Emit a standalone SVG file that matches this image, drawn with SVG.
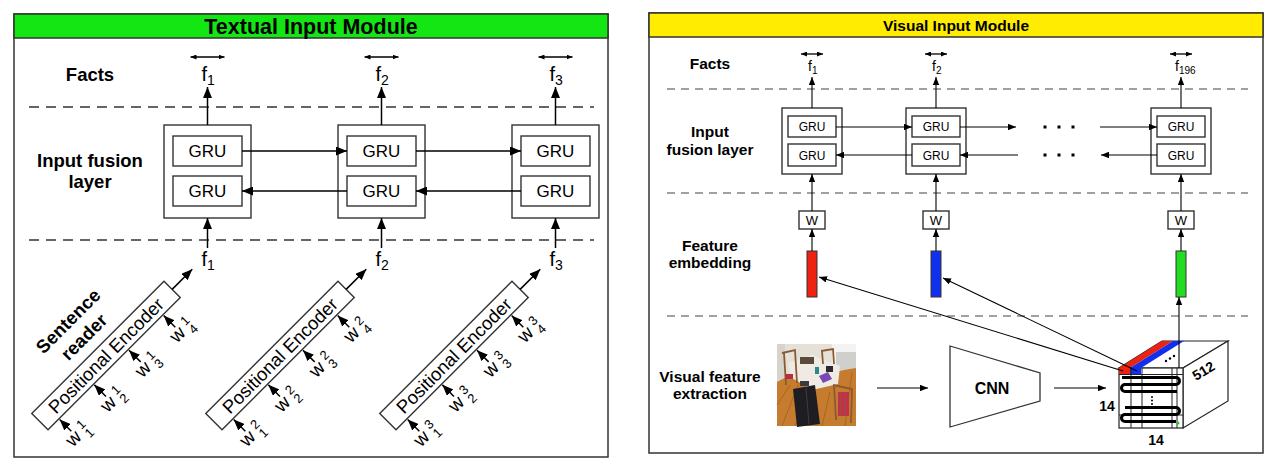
<svg xmlns="http://www.w3.org/2000/svg" width="1270" height="465" viewBox="0 0 1270 465">
<defs>
<style>
text{font-family:"Liberation Sans",Arial,sans-serif;fill:#000}
.panel{fill:#fff;stroke:#333;stroke-width:1.5}
.b{font-weight:bold}
.lbl{font-weight:bold;font-size:18.5px;text-anchor:middle}
.rlbl{font-weight:bold;font-size:15.5px;text-anchor:middle}
.box{fill:#fff;stroke:#333;stroke-width:1.4}
.gru{font-size:17px;text-anchor:middle}
.rgru{font-size:12px;text-anchor:middle}
.dash{stroke:#333;stroke-width:1.3;stroke-dasharray:10 7;fill:none}
.rdash{stroke:#444;stroke-width:1.2;stroke-dasharray:8 6;fill:none}
.ln{stroke:#000;stroke-width:1.5;fill:none;marker-end:url(#ah)}
.rln{stroke:#000;stroke-width:1.1;fill:none;marker-end:url(#ahs)}
.dbl{stroke:#000;stroke-width:1.3;fill:none;marker-start:url(#ahd);marker-end:url(#ahd)}
.fl{font-size:20px}
.rf{font-size:14px}
.w{font-size:19px}
.ws{font-size:13px}
.pe{font-size:18.5px;text-anchor:middle}
</style>
<marker id="ah" markerUnits="userSpaceOnUse" markerWidth="11" markerHeight="9" refX="11" refY="4.5" orient="auto"><path d="M0,0 L11,4.5 L0,9 z" fill="#000"/></marker>
<marker id="ahs" markerUnits="userSpaceOnUse" markerWidth="8" markerHeight="6.5" refX="8" refY="3.25" orient="auto"><path d="M0,0 L8,3.25 L0,6.5 z" fill="#000"/></marker>
<marker id="ahd" markerUnits="userSpaceOnUse" markerWidth="6" markerHeight="5" refX="6" refY="2.5" orient="auto-start-reverse"><path d="M0,0 L6,2.5 L0,5 z" fill="#000"/></marker>
</defs>

<!-- ================= Textual Input Module ================= -->
<g id="textual-module">
<rect class="panel" x="14" y="14" width="594" height="443"/>
<rect x="14" y="14" width="594" height="24" fill="#14e614" stroke="#333" stroke-width="1.5"/>
<text x="311" y="34" class="b" font-size="21.5" text-anchor="middle">Textual Input Module</text>
<text class="lbl" x="90" y="81">Facts</text>
<text class="lbl" x="90" y="167">Input fusion</text>
<text class="lbl" x="90" y="188">layer</text>
<g transform="translate(68,321) rotate(-45)">
<text class="lbl" x="0" y="6.5">Sentence</text>
<text class="lbl" x="0" y="29">reader</text>
</g>
<line class="dash" x1="29" y1="107" x2="594" y2="107"/>
<line class="dash" x1="29" y1="240" x2="594" y2="240"/>
</g>

<g id="t-fusion-1">
<rect class="box" x="164" y="125" width="87" height="93"/>
<rect class="box" x="173" y="136" width="69" height="30"/><text class="gru" x="207.5" y="157">GRU</text>
<rect class="box" x="173" y="176" width="69" height="30"/><text class="gru" x="207.5" y="197">GRU</text>
</g>
<g id="t-fusion-2">
<rect class="box" x="338" y="125" width="87" height="93"/>
<rect class="box" x="347" y="136" width="69" height="30"/><text class="gru" x="381.5" y="157">GRU</text>
<rect class="box" x="347" y="176" width="69" height="30"/><text class="gru" x="381.5" y="197">GRU</text>
</g>
<g id="t-fusion-3">
<rect class="box" x="512" y="125" width="87" height="93"/>
<rect class="box" x="521" y="136" width="69" height="30"/><text class="gru" x="555.5" y="157">GRU</text>
<rect class="box" x="521" y="176" width="69" height="30"/><text class="gru" x="555.5" y="197">GRU</text>
</g>

<g id="t-facts">
<text class="fl" x="201.5" y="81">f<tspan font-size="14" dy="4">1</tspan></text>
<text class="fl" x="375.5" y="81">f<tspan font-size="14" dy="4">2</tspan></text>
<text class="fl" x="549.5" y="81">f<tspan font-size="14" dy="4">3</tspan></text>
<text class="fl" x="201.5" y="266">f<tspan font-size="14" dy="4">1</tspan></text>
<text class="fl" x="375.5" y="266">f<tspan font-size="14" dy="4">2</tspan></text>
<text class="fl" x="549.5" y="266">f<tspan font-size="14" dy="4">3</tspan></text>
</g>

<g id="t-encoder-1" transform="translate(106,355.5) rotate(-45)">
<rect class="box" x="-93.5" y="-11.5" width="187" height="23"/>
<text class="pe" x="0" y="6.5">Positional Encoder</text>
<text class="w" x="-88.5" y="42">w</text><text class="ws" x="-70" y="35.5">1</text><text class="ws" x="-70" y="47.5">1</text>
<text class="w" x="-39.5" y="42">w</text><text class="ws" x="-21" y="35.5">1</text><text class="ws" x="-21" y="47.5">2</text>
<text class="w" x="9.5" y="42">w</text><text class="ws" x="28" y="35.5">1</text><text class="ws" x="28" y="47.5">3</text>
<text class="w" x="58.5" y="42">w</text><text class="ws" x="77" y="35.5">1</text><text class="ws" x="77" y="47.5">4</text>
</g>
<g id="t-encoder-2" transform="translate(280,355.5) rotate(-45)">
<rect class="box" x="-93.5" y="-11.5" width="187" height="23"/>
<text class="pe" x="0" y="6.5">Positional Encoder</text>
<text class="w" x="-88.5" y="42">w</text><text class="ws" x="-70" y="35.5">2</text><text class="ws" x="-70" y="47.5">1</text>
<text class="w" x="-39.5" y="42">w</text><text class="ws" x="-21" y="35.5">2</text><text class="ws" x="-21" y="47.5">2</text>
<text class="w" x="9.5" y="42">w</text><text class="ws" x="28" y="35.5">2</text><text class="ws" x="28" y="47.5">3</text>
<text class="w" x="58.5" y="42">w</text><text class="ws" x="77" y="35.5">2</text><text class="ws" x="77" y="47.5">4</text>
</g>
<g id="t-encoder-3" transform="translate(454,355.5) rotate(-45)">
<rect class="box" x="-93.5" y="-11.5" width="187" height="23"/>
<text class="pe" x="0" y="6.5">Positional Encoder</text>
<text class="w" x="-88.5" y="42">w</text><text class="ws" x="-70" y="35.5">3</text><text class="ws" x="-70" y="47.5">1</text>
<text class="w" x="-39.5" y="42">w</text><text class="ws" x="-21" y="35.5">3</text><text class="ws" x="-21" y="47.5">2</text>
<text class="w" x="9.5" y="42">w</text><text class="ws" x="28" y="35.5">3</text><text class="ws" x="28" y="47.5">3</text>
<text class="w" x="58.5" y="42">w</text><text class="ws" x="77" y="35.5">3</text><text class="ws" x="77" y="47.5">4</text>
</g>

<!-- ================= Visual Input Module ================= -->
<g id="visual-module">
<rect class="panel" x="649" y="13" width="614" height="440"/>
<rect x="649" y="13" width="614" height="24" fill="#ffec00" stroke="#333" stroke-width="1.5"/>
<text x="956" y="31" class="b" font-size="15.5" text-anchor="middle">Visual Input Module</text>
<text class="rlbl" x="710" y="69">Facts</text>
<text class="rlbl" x="710" y="137">Input</text>
<text class="rlbl" x="710" y="155">fusion layer</text>
<text class="rlbl" x="710" y="251">Feature</text>
<text class="rlbl" x="710" y="268">embedding</text>
<text class="rlbl" x="710" y="382">Visual feature</text>
<text class="rlbl" x="710" y="399">extraction</text>
<line class="rdash" x1="667" y1="89" x2="1248" y2="89"/>
<line class="rdash" x1="667" y1="193" x2="1248" y2="193"/>
<line class="rdash" x1="667" y1="316" x2="1248" y2="316"/>
</g>

<g id="v-facts">
<text class="rf" x="808" y="71">f<tspan font-size="10" dy="3">1</tspan></text>
<text class="rf" x="932" y="71">f<tspan font-size="10" dy="3">2</tspan></text>
<text class="rf" x="1175" y="71">f<tspan font-size="10" dy="3">196</tspan></text>
</g>

<g id="v-fusion-1">
<rect class="box" x="782" y="108" width="60" height="66"/>
<rect class="box" x="788" y="116" width="48" height="21"/><text class="rgru" x="812" y="131">GRU</text>
<rect class="box" x="788" y="144" width="48" height="22"/><text class="rgru" x="812" y="159.5">GRU</text>
</g>
<g id="v-fusion-2">
<rect class="box" x="906" y="108" width="60" height="66"/>
<rect class="box" x="912" y="116" width="48" height="21"/><text class="rgru" x="936" y="131">GRU</text>
<rect class="box" x="912" y="144" width="48" height="22"/><text class="rgru" x="936" y="159.5">GRU</text>
</g>
<g id="v-ellipsis" fill="#000">
<rect x="1043.5" y="125.5" width="3" height="3"/><rect x="1057.5" y="125.5" width="3" height="3"/><rect x="1071.5" y="125.5" width="3" height="3"/>
<rect x="1043.5" y="153.5" width="3" height="3"/><rect x="1057.5" y="153.5" width="3" height="3"/><rect x="1071.5" y="153.5" width="3" height="3"/>
</g>
<g id="v-fusion-3">
<rect class="box" x="1151" y="108" width="60" height="66"/>
<rect class="box" x="1157" y="116" width="48" height="21"/><text class="rgru" x="1181" y="131">GRU</text>
<rect class="box" x="1157" y="144" width="48" height="22"/><text class="rgru" x="1181" y="159.5">GRU</text>
</g>

<g id="v-embed-1">
<rect class="box" x="799" y="211" width="26" height="18"/><text x="812" y="225" font-size="13" text-anchor="middle">W</text>
<rect x="807" y="251" width="10" height="46" fill="#ee2211" stroke="#333" stroke-width="1"/>
</g>
<g id="v-embed-2">
<rect class="box" x="923" y="211" width="26" height="18"/><text x="936" y="225" font-size="13" text-anchor="middle">W</text>
<rect x="931" y="251" width="10" height="46" fill="#1030ee" stroke="#333" stroke-width="1"/>
</g>
<g id="v-embed-3">
<rect class="box" x="1168" y="211" width="26" height="18"/><text x="1181" y="225" font-size="13" text-anchor="middle">W</text>
<rect x="1176" y="251" width="10" height="46" fill="#22dd22" stroke="#333" stroke-width="1"/>
</g>

<g id="v-photo">
<rect x="777" y="344" width="79" height="82" fill="#e6e1d8"/>
<rect x="777" y="344" width="8" height="50" fill="#d8d4cc"/>
<rect x="832" y="344" width="24" height="28" fill="#f3f3f1"/>
<rect x="836" y="352" width="20" height="18" fill="#cfcfcc"/>
<polygon points="777,382 792,374 832,372 856,368 856,426 777,426" fill="#c67c2e"/>
<g stroke="#a65e1c" stroke-width="0.8">
<line x1="782" y1="426" x2="800" y2="380"/><line x1="795" y1="426" x2="812" y2="382"/>
<line x1="822" y1="426" x2="830" y2="392"/><line x1="845" y1="426" x2="852" y2="372"/>
<line x1="777" y1="405" x2="790" y2="385"/>
</g>
<polygon points="788,363 812,355 840,366 838,384 812,390 792,378" fill="#efebe4"/>
<rect x="800" y="357" width="14" height="7" fill="#5b4a3b"/>
<rect x="815" y="367" width="4" height="7" fill="#2a8a8a"/>
<rect x="826" y="366" width="7" height="6" fill="#2b2b2b"/>
<polygon points="819,376 828,372 832,379 823,383" fill="#7a48b0"/>
<g stroke="#8a5a30" stroke-width="1.8" fill="none">
<path d="M782,353 L795,350 L797,383 M784,353 L786,385"/>
<path d="M821,351 L833,349 L834,364 M822,351 L823,364"/>
<path d="M833,385 L852,389 L851,423 M834,385 L836,420"/>
</g>
<rect x="785" y="374" width="8" height="5" fill="#b33040"/>
<rect x="838" y="392" width="11" height="24" fill="#c2304c"/>
<g stroke="#8a5a30" stroke-width="0.8"><line x1="841" y1="392" x2="841" y2="416"/><line x1="845" y1="392" x2="845" y2="416"/></g>
<polygon points="793,389 815,385 820,424 797,427" fill="#1e1e22"/>
<rect x="800" y="381" width="9" height="5" fill="#3a3a40"/>
<line x1="806" y1="388" x2="809" y2="424" stroke="#3c3c44" stroke-width="1"/>
</g>

<g id="v-cnn">
<polygon points="950,346 1040,373 1040,401 950,427" fill="#fff" stroke="#333" stroke-width="1.3"/>
<text x="992" y="394" class="b" font-size="16" text-anchor="middle">CNN</text>
</g>

<g id="v-featuremap">
<polygon points="1119,368 1162,341 1228,341 1183,368" fill="#fff" stroke="#222" stroke-width="1.2"/>
<polygon points="1183,368 1228,341 1228,401 1183,428" fill="#fff" stroke="#222" stroke-width="1.2"/>
<rect x="1119" y="368" width="64" height="60" fill="#fff" stroke="#222" stroke-width="1.2"/>
<polygon points="1119,368 1130,368 1173,341 1162,341" fill="#ee2211"/>
<polygon points="1130,368 1141,368 1184,341 1173,341" fill="#1030ee"/>
<rect x="1119" y="368" width="11" height="7" fill="#ee2211"/>
<rect x="1130" y="368" width="11" height="7" fill="#1030ee"/>
<g stroke="#222" stroke-width="1">
<line x1="1131" y1="368" x2="1131" y2="428"/><line x1="1142" y1="368" x2="1142" y2="428"/>
<line x1="1172" y1="368" x2="1172" y2="428"/><line x1="1177" y1="368" x2="1177" y2="428"/>
<line x1="1119" y1="374.5" x2="1183" y2="374.5"/><line x1="1119" y1="415" x2="1183" y2="415"/>
</g>
<path d="M1122,377.5 H1176 A3.5,3.5 0 0 1 1176,384.5 H1125 A3.5,3.5 0 0 0 1125,391.5 H1177 M1125,407.5 H1176 A3.5,3.5 0 0 1 1176,414.5 H1125 A3.5,3.5 0 0 0 1125,421.5 H1176" fill="none" stroke="#000" stroke-width="3"/>
<g fill="#000">
<circle cx="1152" cy="397" r="1"/><circle cx="1152" cy="400.5" r="1"/><circle cx="1152" cy="404" r="1"/>
<circle cx="1166" cy="361" r="1.2"/><circle cx="1170" cy="358.5" r="1.2"/><circle cx="1174" cy="356" r="1.2"/>
</g>
<circle cx="1178" cy="423" r="1.5" fill="#2c2"/>
<text x="1107" y="411" class="b" font-size="14" text-anchor="middle">14</text>
<text x="1156" y="445" class="b" font-size="14" text-anchor="middle">14</text>
<text transform="translate(1206,375) rotate(-31)" class="b" font-size="14" text-anchor="middle">512</text>
</g>

<!-- ================= Connectors ================= -->
<g id="connectors">
<line class="dbl" x1="190.5" y1="57" x2="224.5" y2="57"/>
<line class="dbl" x1="364.5" y1="57" x2="398.5" y2="57"/>
<line class="dbl" x1="538.5" y1="57" x2="572.5" y2="57"/>
<line class="ln" x1="207.5" y1="125" x2="207.5" y2="87"/>
<line class="ln" x1="381.5" y1="125" x2="381.5" y2="87"/>
<line class="ln" x1="555.5" y1="125" x2="555.5" y2="87"/>
<line class="ln" x1="207.5" y1="248" x2="207.5" y2="218"/>
<line class="ln" x1="381.5" y1="248" x2="381.5" y2="218"/>
<line class="ln" x1="555.5" y1="248" x2="555.5" y2="218"/>
<line class="ln" x1="242" y1="151" x2="347" y2="151"/>
<line class="ln" x1="416" y1="151" x2="521" y2="151"/>
<line class="ln" x1="347" y1="191" x2="242" y2="191"/>
<line class="ln" x1="521" y1="191" x2="416" y2="191"/>
<g transform="translate(106,355.5) rotate(-45)">
<line class="ln" x1="93.5" y1="0" x2="122" y2="0"/>
<line class="ln" x1="-78" y1="29" x2="-78" y2="12.5"/><line class="ln" x1="-29" y1="29" x2="-29" y2="12.5"/>
<line class="ln" x1="20" y1="29" x2="20" y2="12.5"/><line class="ln" x1="69" y1="29" x2="69" y2="12.5"/>
</g>
<g transform="translate(280,355.5) rotate(-45)">
<line class="ln" x1="93.5" y1="0" x2="122" y2="0"/>
<line class="ln" x1="-78" y1="29" x2="-78" y2="12.5"/><line class="ln" x1="-29" y1="29" x2="-29" y2="12.5"/>
<line class="ln" x1="20" y1="29" x2="20" y2="12.5"/><line class="ln" x1="69" y1="29" x2="69" y2="12.5"/>
</g>
<g transform="translate(454,355.5) rotate(-45)">
<line class="ln" x1="93.5" y1="0" x2="122" y2="0"/>
<line class="ln" x1="-78" y1="29" x2="-78" y2="12.5"/><line class="ln" x1="-29" y1="29" x2="-29" y2="12.5"/>
<line class="ln" x1="20" y1="29" x2="20" y2="12.5"/><line class="ln" x1="69" y1="29" x2="69" y2="12.5"/>
</g>
<line class="dbl" x1="801" y1="54" x2="823" y2="54"/>
<line class="dbl" x1="925" y1="54" x2="947" y2="54"/>
<line class="dbl" x1="1170" y1="54" x2="1192" y2="54"/>
<line class="rln" x1="812" y1="108" x2="812" y2="77"/>
<line class="rln" x1="936" y1="108" x2="936" y2="77"/>
<line class="rln" x1="1181" y1="108" x2="1181" y2="77"/>
<line class="rln" x1="836" y1="127" x2="912" y2="127"/>
<line class="rln" x1="960" y1="127" x2="1016" y2="127"/>
<line class="rln" x1="1100" y1="127" x2="1157" y2="127"/>
<line class="rln" x1="1157" y1="155" x2="1101" y2="155"/>
<line class="rln" x1="1018" y1="155" x2="960" y2="155"/>
<line class="rln" x1="912" y1="155" x2="836" y2="155"/>
<line class="rln" x1="812" y1="211" x2="812" y2="174"/>
<line class="rln" x1="936" y1="211" x2="936" y2="174"/>
<line class="rln" x1="1181" y1="211" x2="1181" y2="174"/>
<line class="rln" x1="812" y1="251" x2="812" y2="229"/>
<line class="rln" x1="936" y1="251" x2="936" y2="229"/>
<line class="rln" x1="1181" y1="251" x2="1181" y2="229"/>
<line class="rln" x1="1123" y1="371" x2="819" y2="277"/>
<line class="rln" x1="1137" y1="371" x2="943" y2="278"/>
<line class="rln" x1="1179" y1="368" x2="1179" y2="297"/>
<line class="rln" x1="877" y1="388" x2="928" y2="388"/>
<line class="rln" x1="1054" y1="388" x2="1106" y2="388"/>
</g>
</svg>
